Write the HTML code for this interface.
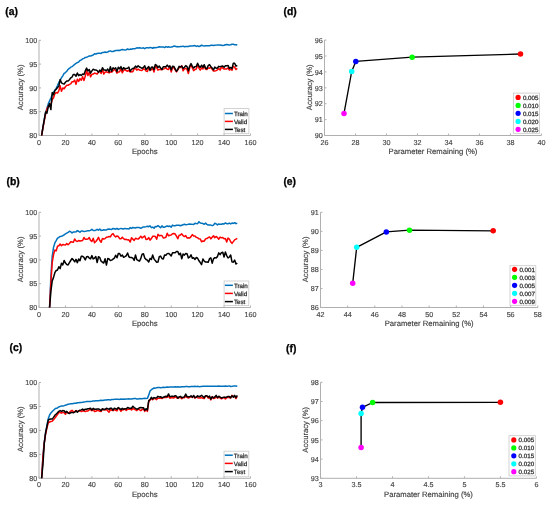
<!DOCTYPE html>
<html><head><meta charset="utf-8"><title>Accuracy figure</title>
<style>
html,body{margin:0;padding:0;background:#fff;}
body{width:550px;height:505px;overflow:hidden;}
svg{display:block;will-change:transform;}
#w{width:550px;height:505px;}
text{font-family:"Liberation Sans", sans-serif;text-rendering:geometricPrecision;}
.t{font-size:7.2px;fill:#3c3c3c;stroke:#555;stroke-width:0.15px;}
.l{font-size:7.7px;fill:#383838;stroke:#4a4a4a;stroke-width:0.15px;}
.g{font-size:6.2px;fill:#262626;stroke:#303030;stroke-width:0.25px;}
.p{font-size:11.0px;font-weight:bold;fill:#000;stroke:#000;stroke-width:0.3px;}
</style></head>
<body><div id="w">
<svg width="550" height="505" viewBox="0 0 550 505">
<rect width="550" height="505" fill="#fff"/>
<text transform="translate(5.2 15) scale(0.94 1)" class="p">(a)</text>
<text transform="translate(6.6 185) scale(0.94 1)" class="p">(b)</text>
<text transform="translate(9.5 351) scale(0.94 1)" class="p">(c)</text>
<text transform="translate(283.6 15.1) scale(0.94 1)" class="p">(d)</text>
<text transform="translate(283.4 185.2) scale(0.94 1)" class="p">(e)</text>
<text transform="translate(286 352.1) scale(0.94 1)" class="p">(f)</text>
<path d="M39 40.3V135.5M39 135.5H250.5" stroke="#b0b0b0" stroke-width="1" fill="none"/>
<path d="M39 135.5h2M39 111.7h2M39 87.9h2M39 64.1h2M39 40.3h2M39 135.5v-2M65.44 135.5v-2M91.88 135.5v-2M118.31 135.5v-2M144.75 135.5v-2M171.19 135.5v-2M197.62 135.5v-2M224.06 135.5v-2M250.5 135.5v-2" stroke="#b0b0b0" stroke-width="1" fill="none"/>
<text x="37.2" y="138.2" text-anchor="end" class="t">80</text>
<text x="37.2" y="114.4" text-anchor="end" class="t">85</text>
<text x="37.2" y="90.6" text-anchor="end" class="t">90</text>
<text x="37.2" y="66.8" text-anchor="end" class="t">95</text>
<text x="37.2" y="43" text-anchor="end" class="t">100</text>
<text x="39" y="144.6" text-anchor="middle" class="t">0</text>
<text x="65.44" y="144.6" text-anchor="middle" class="t">20</text>
<text x="91.88" y="144.6" text-anchor="middle" class="t">40</text>
<text x="118.31" y="144.6" text-anchor="middle" class="t">60</text>
<text x="144.75" y="144.6" text-anchor="middle" class="t">80</text>
<text x="171.19" y="144.6" text-anchor="middle" class="t">100</text>
<text x="197.62" y="144.6" text-anchor="middle" class="t">120</text>
<text x="224.06" y="144.6" text-anchor="middle" class="t">140</text>
<text x="250.5" y="144.6" text-anchor="middle" class="t">160</text>
<text x="144.75" y="153.7" text-anchor="middle" class="l">Epochs</text>
<text transform="translate(23.2 87.4) rotate(-90)" text-anchor="middle" class="l">Accuracy (%)</text>
<path d="M41.64 135.5 42.97 126.87 44.29 119.21 45.61 112.9 46.93 108.17 48.25 103.86 49.58 100.83 50.9 97.94 52.22 94.7 53.54 92.38 54.86 90.14 56.18 88.43 57.51 85.59 58.83 82.47 60.15 80.31 61.47 77.73 62.79 75.89 64.12 73.48 65.44 72.52 66.76 71.22 68.08 69.4 69.4 68.46 70.72 67.17 72.05 66.59 73.37 65.52 74.69 64.33 76.01 63.47 77.33 62.65 78.66 61.99 79.98 60.52 81.3 59.79 82.62 58.86 83.94 58.32 85.27 57.42 86.59 57.2 87.91 56.63 89.23 55.98 90.55 56.06 91.88 55.45 93.2 55.03 94.52 53.81 95.84 54.03 97.16 53.53 98.48 53.22 99.81 53.25 101.13 53.44 102.45 52.41 103.77 52.54 105.09 51.99 106.42 52.41 107.74 51.99 109.06 51.21 110.38 50.89 111.7 51.6 113.03 51.54 114.35 50.95 115.67 50.47 116.99 50.45 118.31 50.25 119.63 50.51 120.96 49.87 122.28 49.48 123.6 49.81 124.92 50.04 126.24 49.71 127.57 49.04 128.89 49.66 130.21 49.07 131.53 49.18 132.85 48.8 134.18 48.68 135.5 48.48 136.82 47.86 138.14 48.05 139.46 47.69 140.78 48.05 142.11 48.13 143.43 47.78 144.75 48.74 146.07 47.86 147.39 47.63 148.72 48 150.04 47.42 151.36 47.64 152.68 48.25 154 47.53 155.32 47.65 156.65 47.46 157.97 47.27 159.29 46.74 160.61 47.02 161.93 47.05 163.26 46.88 164.58 47.55 165.9 46.57 167.22 47.19 168.54 46.71 169.87 47.14 171.19 47.09 172.51 46.85 173.83 46.02 175.15 46.28 176.47 46.71 177.8 46.62 179.12 46.86 180.44 46.49 181.76 46.59 183.08 46.14 184.41 46.75 185.73 46.45 187.05 46.55 188.37 46.49 189.69 45.98 191.02 46.08 192.34 45.91 193.66 45.66 194.98 45.61 196.3 46.41 197.62 45.84 198.95 46.51 200.27 45.99 201.59 45.23 202.91 45.81 204.23 45.9 205.56 45.69 206.88 45.68 208.2 45.63 209.52 45.85 210.84 45.22 212.17 45.17 213.49 45.49 214.81 45.31 216.13 45.13 217.45 44.94 218.78 45.09 220.1 44.97 221.42 45.23 222.74 45.48 224.06 45.28 225.38 44.71 226.71 44.61 228.03 44.83 229.35 45.05 230.67 44.74 231.99 44.21 233.32 44.21 234.64 44.85 235.96 44.67 237.28 45.07" stroke="#0072bd" stroke-width="1.5" fill="none" stroke-linejoin="round"/>
<path d="M41.64 135.5 42.97 127.95 44.29 120.61 45.61 114.05 46.93 109.15 48.25 106.4 49.58 106.62 50.9 104.64 52.22 99.67 53.54 97.71 54.86 93.81 56.18 92.6 57.51 93.06 58.83 90.81 60.15 85.83 61.47 91.33 62.79 87.99 64.12 88.77 65.44 86.73 66.76 85.32 68.08 85.37 69.4 84.36 70.72 83.88 72.05 81.77 73.37 81.75 74.69 80.13 76.01 84.39 77.33 79.24 78.66 81.46 79.98 78.62 81.3 80.23 82.62 76.74 83.94 80.56 85.27 76.12 86.59 70.68 87.91 75.51 89.23 72.16 90.55 76.88 91.88 74.36 93.2 74.01 94.52 73.12 95.84 73.54 97.16 73.95 98.48 72.35 99.81 70.82 101.13 73.53 102.45 69.3 103.77 74.15 105.09 72.11 106.42 71.87 107.74 72.29 109.06 72.88 110.38 71.83 111.7 72.14 113.03 70.82 114.35 69.5 115.67 70.51 116.99 73.15 118.31 72.02 119.63 71.66 120.96 69.12 122.28 72.81 123.6 70.36 124.92 69.67 126.24 70.72 127.57 71.17 128.89 70.2 130.21 72.09 131.53 71.82 132.85 71.67 134.18 68.62 135.5 68.54 136.82 70.1 138.14 69.07 139.46 69.94 140.78 70.32 142.11 70.42 143.43 68.68 144.75 69.41 146.07 71.11 147.39 71.54 148.72 67.45 150.04 69.25 151.36 69.75 152.68 68.45 154 72.05 155.32 66.38 156.65 67.61 157.97 70.14 159.29 69.42 160.61 69.6 161.93 69.64 163.26 69.13 164.58 68.62 165.9 67.74 167.22 69.22 168.54 69.41 169.87 66.11 171.19 71.91 172.51 68.09 173.83 67.26 175.15 69.94 176.47 71.84 177.8 69.93 179.12 67.43 180.44 67.61 181.76 65.82 183.08 70.75 184.41 68.91 185.73 68.4 187.05 69.56 188.37 73.52 189.69 67.8 191.02 64.74 192.34 67.94 193.66 70.65 194.98 69.53 196.3 68.99 197.62 64.82 198.95 68.12 200.27 70.08 201.59 67.89 202.91 68.93 204.23 65.85 205.56 69.31 206.88 69.61 208.2 67.88 209.52 68.25 210.84 67.15 212.17 69.28 213.49 71.08 214.81 70.99 216.13 70.61 217.45 69.77 218.78 68.43 220.1 70.08 221.42 67.08 222.74 68.16 224.06 69 225.38 68.91 226.71 68.89 228.03 67.98 229.35 70 230.67 69.2 231.99 70.2 233.32 66.34 234.64 67.13 235.96 69.52 237.28 68.4" stroke="#ff0000" stroke-width="1.5" fill="none" stroke-linejoin="round"/>
<path d="M41.64 135.5 42.97 127.19 44.29 119.79 45.61 111.91 46.93 113.19 48.25 106.86 49.58 103.65 50.9 109.59 52.22 92.53 53.54 94.75 54.86 90.56 56.18 89.32 57.51 87.58 58.83 86.17 60.15 79.56 61.47 82.83 62.79 83.65 64.12 84.14 65.44 82.22 66.76 80.93 68.08 80.97 69.4 79.74 70.72 77.87 72.05 77.03 73.37 74.46 74.69 74.45 76.01 76.27 77.33 72.99 78.66 75.64 79.98 74.59 81.3 75.41 82.62 74.06 83.94 74.59 85.27 70.94 86.59 68.1 87.91 71.04 89.23 69.55 90.55 73.12 91.88 70.9 93.2 69.23 94.52 69.88 95.84 69.93 97.16 70.6 98.48 72.24 99.81 70.03 101.13 71.4 102.45 67.67 103.77 69.94 105.09 69.99 106.42 70.63 107.74 68.97 109.06 72.06 110.38 66.79 111.7 71.18 113.03 67.81 114.35 68.75 115.67 67.87 116.99 71.63 118.31 67.32 119.63 68.78 120.96 66.65 122.28 70.01 123.6 67.65 124.92 68.84 126.24 68.53 127.57 68.23 128.89 67.12 130.21 71.18 131.53 69.32 132.85 68.47 134.18 67.98 135.5 66.11 136.82 67.39 138.14 65.8 139.46 67.04 140.78 67.54 142.11 68.35 143.43 67.41 144.75 65.83 146.07 69.49 147.39 67.98 148.72 66.49 150.04 70.59 151.36 67.14 152.68 66.99 154 69.62 155.32 64.51 156.65 65.48 157.97 67.53 159.29 66.13 160.61 68 161.93 69.56 163.26 66.7 164.58 66.74 165.9 66.75 167.22 65.11 168.54 66.91 169.87 65.97 171.19 69.71 172.51 66.32 173.83 66.48 175.15 68.83 176.47 71.27 177.8 69.35 179.12 66.35 180.44 66.82 181.76 66.07 183.08 68.51 184.41 67.2 185.73 65.65 187.05 66.52 188.37 70.8 189.69 66.02 191.02 63.63 192.34 66.36 193.66 68.06 194.98 66.62 196.3 66.4 197.62 63.3 198.95 66.19 200.27 67.32 201.59 65.17 202.91 67.37 204.23 64.68 205.56 68.29 206.88 68.75 208.2 65.64 209.52 64.62 210.84 66.65 212.17 68.1 213.49 69.81 214.81 67.13 216.13 68.16 217.45 68 218.78 66.34 220.1 66.86 221.42 66.15 222.74 65.96 224.06 67.34 225.38 65.84 226.71 65.87 228.03 65.43 229.35 68.34 230.67 67.45 231.99 68.67 233.32 63.19 234.64 63.29 235.96 66.12 237.28 65.54" stroke="#000000" stroke-width="1.5" fill="none" stroke-linejoin="round"/>
<rect x="224.1" y="108.6" width="24.8" height="25.1" fill="#fff" stroke="#c8c8c8" stroke-width="0.8"/>
<path d="M224.9 113.5H232.9" stroke="#0072bd" stroke-width="1.5"/>
<text x="233.9" y="115.8" class="g">Train</text>
<path d="M224.9 121.4H232.9" stroke="#ff0000" stroke-width="1.5"/>
<text x="233.9" y="123.7" class="g">Valid</text>
<path d="M224.9 129.4H232.9" stroke="#000000" stroke-width="1.5"/>
<text x="233.9" y="131.7" class="g">Test</text>
<path d="M39 212.3V307.5M39 307.5H250.5" stroke="#b0b0b0" stroke-width="1" fill="none"/>
<path d="M39 307.5h2M39 283.7h2M39 259.9h2M39 236.1h2M39 212.3h2M39 307.5v-2M65.44 307.5v-2M91.88 307.5v-2M118.31 307.5v-2M144.75 307.5v-2M171.19 307.5v-2M197.62 307.5v-2M224.06 307.5v-2M250.5 307.5v-2" stroke="#b0b0b0" stroke-width="1" fill="none"/>
<text x="37.2" y="310.2" text-anchor="end" class="t">80</text>
<text x="37.2" y="286.4" text-anchor="end" class="t">85</text>
<text x="37.2" y="262.6" text-anchor="end" class="t">90</text>
<text x="37.2" y="238.8" text-anchor="end" class="t">95</text>
<text x="37.2" y="215" text-anchor="end" class="t">100</text>
<text x="39" y="316.6" text-anchor="middle" class="t">0</text>
<text x="65.44" y="316.6" text-anchor="middle" class="t">20</text>
<text x="91.88" y="316.6" text-anchor="middle" class="t">40</text>
<text x="118.31" y="316.6" text-anchor="middle" class="t">60</text>
<text x="144.75" y="316.6" text-anchor="middle" class="t">80</text>
<text x="171.19" y="316.6" text-anchor="middle" class="t">100</text>
<text x="197.62" y="316.6" text-anchor="middle" class="t">120</text>
<text x="224.06" y="316.6" text-anchor="middle" class="t">140</text>
<text x="250.5" y="316.6" text-anchor="middle" class="t">160</text>
<text x="144.75" y="325.7" text-anchor="middle" class="l">Epochs</text>
<text transform="translate(23.2 259.4) rotate(-90)" text-anchor="middle" class="l">Accuracy (%)</text>
<path d="M49.58 307.5 50.9 276.29 52.22 256.32 53.54 247.35 54.86 242.95 56.18 240.63 57.51 238.06 58.83 237.45 60.15 236.45 61.47 236.23 62.79 235.71 64.12 234.77 65.44 233.89 66.76 233.13 68.08 232.45 69.4 231.25 70.72 231.71 72.05 232.99 73.37 231.94 74.69 232.1 76.01 231.88 77.33 230.63 78.66 231.29 79.98 232.27 81.3 231.01 82.62 231.12 83.94 231.55 85.27 231.38 86.59 231.1 87.91 230.64 89.23 230.73 90.55 230.38 91.88 229.24 93.2 230.53 94.52 230.6 95.84 230.21 97.16 229.31 98.48 230.18 99.81 229.01 101.13 230.39 102.45 230.34 103.77 229.73 105.09 230.06 106.42 229.91 107.74 229.23 109.06 228.94 110.38 229.2 111.7 229.4 113.03 228.45 114.35 228.82 115.67 229.17 116.99 228.34 118.31 229.39 119.63 228.84 120.96 228.41 122.28 228.67 123.6 228.95 124.92 228.38 126.24 228.75 127.57 228.76 128.89 228.93 130.21 227.55 131.53 228.37 132.85 227.42 134.18 227.67 135.5 228 136.82 227.43 138.14 227.52 139.46 227.54 140.78 228.33 142.11 227.52 143.43 226.88 144.75 226.97 146.07 226.61 147.39 226.21 148.72 226.71 150.04 225.83 151.36 227.67 152.68 227.11 154 228.3 155.32 226.48 156.65 226.63 157.97 225.69 159.29 226.7 160.61 227.72 161.93 225.91 163.26 227.14 164.58 227.19 165.9 226.53 167.22 225.94 168.54 226.47 169.87 226.08 171.19 227.17 172.51 225.12 173.83 225.8 175.15 225.67 176.47 225.28 177.8 225.37 179.12 225.26 180.44 225.79 181.76 225.28 183.08 224.8 184.41 224.29 185.73 224.79 187.05 224.62 188.37 224.36 189.69 224.09 191.02 224.16 192.34 224.33 193.66 224.39 194.98 223.36 196.3 223.6 197.62 223.68 198.95 221.73 200.27 222.98 201.59 223.15 202.91 223.57 204.23 224.28 205.56 223.14 206.88 224.34 208.2 224.96 209.52 225.04 210.84 225.09 212.17 225.65 213.49 225.12 214.81 223.24 216.13 223.93 217.45 224.9 218.78 223.97 220.1 224.17 221.42 224.23 222.74 223.84 224.06 224.02 225.38 222.93 226.71 223.73 228.03 223.71 229.35 223.09 230.67 223.91 231.99 223.02 233.32 223.43 234.64 222.67 235.96 223.65 237.28 223.29" stroke="#0072bd" stroke-width="1.5" fill="none" stroke-linejoin="round"/>
<path d="M49.58 307.5 50.9 282.85 52.22 262.27 53.54 254.52 54.86 250.11 56.18 250.96 57.51 246.17 58.83 245.74 60.15 244.03 61.47 245.68 62.79 244.45 64.12 244.75 65.44 244.97 66.76 243.58 68.08 244.73 69.4 243.5 70.72 241.8 72.05 242.06 73.37 242.35 74.69 238.99 76.01 240.82 77.33 241.51 78.66 240.54 79.98 241.06 81.3 240.78 82.62 240.52 83.94 237.49 85.27 239.33 86.59 239.19 87.91 238.92 89.23 237.57 90.55 240.35 91.88 241.44 93.2 238.16 94.52 242.73 95.84 241.53 97.16 239.8 98.48 237.31 99.81 240.5 101.13 242.28 102.45 238.46 103.77 239.05 105.09 238.6 106.42 237.18 107.74 236.93 109.06 236.46 110.38 236.91 111.7 234.55 113.03 233.66 114.35 235.74 115.67 236.91 116.99 235.98 118.31 236.52 119.63 238.73 120.96 238.65 122.28 237.18 123.6 238.71 124.92 239.52 126.24 239.31 127.57 239.92 128.89 239.82 130.21 242.03 131.53 237.83 132.85 239.1 134.18 240.45 135.5 238.33 136.82 238.79 138.14 239.11 139.46 237.85 140.78 236.17 142.11 237.93 143.43 236.83 144.75 235.94 146.07 239.54 147.39 239.3 148.72 237.64 150.04 240.19 151.36 238.58 152.68 236.33 154 236.16 155.32 236.49 156.65 239.28 157.97 234.36 159.29 235.72 160.61 235.42 161.93 235.51 163.26 237.96 164.58 237.72 165.9 237.23 167.22 233.24 168.54 235.84 169.87 235.25 171.19 235 172.51 233.78 173.83 233.52 175.15 234 176.47 236.05 177.8 238.71 179.12 235.27 180.44 234.92 181.76 233.91 183.08 235.55 184.41 236.53 185.73 235.61 187.05 238.01 188.37 237.87 189.69 237.98 191.02 236.64 192.34 234.56 193.66 236.12 194.98 236.09 196.3 237.39 197.62 237.72 198.95 238.86 200.27 239.02 201.59 241.83 202.91 240.93 204.23 241.16 205.56 238.88 206.88 238.55 208.2 237.73 209.52 236.93 210.84 238.84 212.17 237.24 213.49 235.77 214.81 237.72 216.13 236.44 217.45 237.57 218.78 239.21 220.1 237.14 221.42 237.8 222.74 237.49 224.06 238.73 225.38 238.55 226.71 242.06 228.03 238.06 229.35 239.04 230.67 241.8 231.99 243.39 233.32 241.58 234.64 239.83 235.96 239.19 237.28 238.41" stroke="#ff0000" stroke-width="1.5" fill="none" stroke-linejoin="round"/>
<path d="M49.58 307.5 50.9 291.19 52.22 280.91 53.54 277.37 54.86 272.69 56.18 270.49 57.51 269.95 58.83 266.81 60.15 268.61 61.47 263.29 62.79 264.91 64.12 260.42 65.44 263.07 66.76 264.55 68.08 264.99 69.4 262.64 70.72 260.5 72.05 258.52 73.37 259.89 74.69 261.82 76.01 259.34 77.33 262.67 78.66 258.91 79.98 260.68 81.3 256.13 82.62 256.31 83.94 257.3 85.27 259.92 86.59 256.81 87.91 256.52 89.23 258.04 90.55 258.88 91.88 255.62 93.2 258.99 94.52 258.12 95.84 256.54 97.16 262.52 98.48 256.72 99.81 257.64 101.13 261.14 102.45 262.24 103.77 262.98 105.09 258.83 106.42 265.05 107.74 258.54 109.06 259.03 110.38 260.54 111.7 260.12 113.03 259.16 114.35 258.18 115.67 255.24 116.99 257.75 118.31 253.6 119.63 253.59 120.96 256.23 122.28 254.99 123.6 257.32 124.92 256.57 126.24 255.76 127.57 252.95 128.89 256.76 130.21 257.58 131.53 257.49 132.85 258.21 134.18 260.39 135.5 255.03 136.82 259.68 138.14 260.46 139.46 261.1 140.78 258.66 142.11 254.11 143.43 253.72 144.75 258.06 146.07 259.54 147.39 260.2 148.72 262 150.04 258.46 151.36 259.45 152.68 254.96 154 258.9 155.32 260.59 156.65 262.2 157.97 262.03 159.29 256.68 160.61 256.08 161.93 258.5 163.26 259.05 164.58 254.97 165.9 255.26 167.22 253.62 168.54 253.42 169.87 254.43 171.19 255.96 172.51 252.74 173.83 252.68 175.15 252.75 176.47 251.48 177.8 251.61 179.12 254.73 180.44 253.19 181.76 258.81 183.08 253.99 184.41 255.1 185.73 253.46 187.05 253.66 188.37 257.91 189.69 257.11 191.02 254.84 192.34 258.26 193.66 257.76 194.98 259.41 196.3 257.53 197.62 258.23 198.95 260.8 200.27 262.55 201.59 264.6 202.91 258.9 204.23 261.07 205.56 262.07 206.88 262.09 208.2 262.34 209.52 258.69 210.84 257.91 212.17 263.16 213.49 258.87 214.81 257.63 216.13 257.9 217.45 256.61 218.78 252.84 220.1 254.67 221.42 252.66 222.74 252.33 224.06 256.96 225.38 252.03 226.71 255.58 228.03 257.99 229.35 256.98 230.67 255 231.99 261.87 233.32 262.22 234.64 260.05 235.96 264.02 237.28 263.04" stroke="#000000" stroke-width="1.5" fill="none" stroke-linejoin="round"/>
<rect x="224.1" y="281" width="24.7" height="24.6" fill="#fff" stroke="#c8c8c8" stroke-width="0.8"/>
<path d="M224.9 285.3H232.9" stroke="#0072bd" stroke-width="1.5"/>
<text x="233.9" y="287.6" class="g">Train</text>
<path d="M224.9 293.4H232.9" stroke="#ff0000" stroke-width="1.5"/>
<text x="233.9" y="295.7" class="g">Valid</text>
<path d="M224.9 301.6H232.9" stroke="#000000" stroke-width="1.5"/>
<text x="233.9" y="303.9" class="g">Test</text>
<path d="M39 382.5V478.3M39 478.3H250.5" stroke="#b0b0b0" stroke-width="1" fill="none"/>
<path d="M39 478.3h2M39 454.35h2M39 430.4h2M39 406.45h2M39 382.5h2M39 478.3v-2M65.44 478.3v-2M91.88 478.3v-2M118.31 478.3v-2M144.75 478.3v-2M171.19 478.3v-2M197.62 478.3v-2M224.06 478.3v-2M250.5 478.3v-2" stroke="#b0b0b0" stroke-width="1" fill="none"/>
<text x="37.2" y="481" text-anchor="end" class="t">80</text>
<text x="37.2" y="457.05" text-anchor="end" class="t">85</text>
<text x="37.2" y="433.1" text-anchor="end" class="t">90</text>
<text x="37.2" y="409.15" text-anchor="end" class="t">95</text>
<text x="37.2" y="385.2" text-anchor="end" class="t">100</text>
<text x="39" y="487.4" text-anchor="middle" class="t">0</text>
<text x="65.44" y="487.4" text-anchor="middle" class="t">20</text>
<text x="91.88" y="487.4" text-anchor="middle" class="t">40</text>
<text x="118.31" y="487.4" text-anchor="middle" class="t">60</text>
<text x="144.75" y="487.4" text-anchor="middle" class="t">80</text>
<text x="171.19" y="487.4" text-anchor="middle" class="t">100</text>
<text x="197.62" y="487.4" text-anchor="middle" class="t">120</text>
<text x="224.06" y="487.4" text-anchor="middle" class="t">140</text>
<text x="250.5" y="487.4" text-anchor="middle" class="t">160</text>
<text x="144.75" y="496.5" text-anchor="middle" class="l">Epochs</text>
<text transform="translate(23.2 429.2) rotate(-90)" text-anchor="middle" class="l">Accuracy (%)</text>
<path d="M41.64 478.3 42.97 455.54 44.29 441.77 45.61 432.6 46.93 425.61 48.25 418.68 49.58 415.02 50.9 412.89 52.22 411.48 53.54 410.25 54.86 408.91 56.18 408.26 57.51 407.91 58.83 406.97 60.15 406.37 61.47 406.01 62.79 405.96 64.12 405.65 65.44 405.17 66.76 404.74 68.08 404.26 69.4 404.11 70.72 403.84 72.05 403.81 73.37 403.51 74.69 403.29 76.01 403.25 77.33 402.74 78.66 402.68 79.98 402.42 81.3 402.48 82.62 402.34 83.94 402.1 85.27 401.87 86.59 401.57 87.91 401.49 89.23 401.48 90.55 401.45 91.88 401.27 93.2 400.9 94.52 401.04 95.84 400.8 97.16 400.64 98.48 400.79 99.81 400.48 101.13 400.16 102.45 400.49 103.77 400.18 105.09 400.01 106.42 400.03 107.74 399.78 109.06 399.77 110.38 399.91 111.7 399.54 113.03 399.45 114.35 399.34 115.67 399.19 116.99 399.27 118.31 399.25 119.63 399.39 120.96 399.07 122.28 399.14 123.6 399.08 124.92 399.17 126.24 399.1 127.57 399 128.89 398.7 130.21 399.11 131.53 399.05 132.85 398.77 134.18 398.53 135.5 398.6 136.82 398.93 138.14 399.03 139.46 398.6 140.78 398.68 142.11 398.71 143.43 398.38 144.75 398.3 146.07 398.39 147.39 398.36 148.72 395.15 150.04 390.97 151.36 389.69 152.68 388.86 154 388 155.32 388.13 156.65 387.64 157.97 387.54 159.29 387.49 160.61 387.75 161.93 387.49 163.26 387.17 164.58 387.49 165.9 387.26 167.22 387.03 168.54 387.31 169.87 386.89 171.19 386.96 172.51 387.04 173.83 386.95 175.15 386.86 176.47 386.9 177.8 386.72 179.12 386.93 180.44 386.89 181.76 386.64 183.08 386.73 184.41 386.84 185.73 386.56 187.05 386.42 188.37 386.64 189.69 386.77 191.02 386.6 192.34 386.57 193.66 386.58 194.98 386.32 196.3 386.63 197.62 386.33 198.95 386.64 200.27 386.6 201.59 386.38 202.91 386.27 204.23 386.28 205.56 386.34 206.88 386.37 208.2 386.36 209.52 386.29 210.84 386.37 212.17 386.31 213.49 386.25 214.81 386.31 216.13 386.19 217.45 386.2 218.78 385.98 220.1 386.18 221.42 386.3 222.74 386.3 224.06 386.23 225.38 386.08 226.71 386.23 228.03 386.13 229.35 385.9 230.67 386.5 231.99 386.35 233.32 386.12 234.64 386.06 235.96 386.06 237.28 386.15" stroke="#0072bd" stroke-width="1.5" fill="none" stroke-linejoin="round"/>
<path d="M41.64 478.3 42.97 456.62 44.29 442.79 45.61 434.01 46.93 428.03 48.25 422.77 49.58 421.99 50.9 421.54 52.22 421.12 53.54 419.73 54.86 418.13 56.18 416.21 57.51 414.61 58.83 412.44 60.15 412.46 61.47 413.12 62.79 412.31 64.12 412.84 65.44 414.31 66.76 411.99 68.08 412.82 69.4 412.57 70.72 411.07 72.05 410.32 73.37 411.66 74.69 411.66 76.01 410.64 77.33 411.46 78.66 411.37 79.98 410.5 81.3 411.54 82.62 410.86 83.94 410.98 85.27 411.6 86.59 410.96 87.91 410.93 89.23 409.69 90.55 409.69 91.88 410.79 93.2 409.08 94.52 411.6 95.84 411.28 97.16 410.35 98.48 410.52 99.81 411.22 101.13 411.47 102.45 408.8 103.77 409.84 105.09 410.07 106.42 409.31 107.74 410.87 109.06 412.19 110.38 409.66 111.7 410.25 113.03 410.63 114.35 409.27 115.67 410.28 116.99 410.95 118.31 407.99 119.63 409.31 120.96 411.36 122.28 409.77 123.6 409.83 124.92 408.97 126.24 410.43 127.57 409.14 128.89 409.32 130.21 408.99 131.53 410.01 132.85 408.49 134.18 409.12 135.5 409.92 136.82 410.65 138.14 408.96 139.46 409.76 140.78 410.69 142.11 409.62 143.43 408.6 144.75 411.44 146.07 409.49 147.39 411.43 148.72 401.72 150.04 399.95 151.36 398.47 152.68 399.77 154 398.17 155.32 398.69 156.65 399.64 157.97 397.99 159.29 398.39 160.61 397.94 161.93 398.6 163.26 397.64 164.58 397.56 165.9 397.54 167.22 397.17 168.54 396.11 169.87 398.21 171.19 397.83 172.51 397.82 173.83 398.09 175.15 396.69 176.47 397.74 177.8 398.3 179.12 397.64 180.44 397.35 181.76 398.7 183.08 397.62 184.41 397.71 185.73 396.34 187.05 397.35 188.37 398.02 189.69 397.34 191.02 396.44 192.34 397.4 193.66 396.05 194.98 398.18 196.3 396.66 197.62 397.8 198.95 398.01 200.27 398.12 201.59 397.46 202.91 398.31 204.23 398.52 205.56 396.22 206.88 396.1 208.2 398.16 209.52 397.26 210.84 399.9 212.17 396.61 213.49 398.48 214.81 398.34 216.13 396.38 217.45 398.11 218.78 397.37 220.1 397.88 221.42 398.85 222.74 398.17 224.06 397.33 225.38 398.97 226.71 397.95 228.03 396.97 229.35 397.79 230.67 397.95 231.99 395.36 233.32 396.52 234.64 396.27 235.96 398.54 237.28 396.31" stroke="#ff0000" stroke-width="1.5" fill="none" stroke-linejoin="round"/>
<path d="M41.64 478.3 42.97 463.96 44.29 443.36 45.61 432.74 46.93 426.53 48.25 420.11 49.58 419.24 50.9 418.91 52.22 418.92 53.54 417.38 54.86 415.28 56.18 414.09 57.51 412.82 58.83 411.35 60.15 410.59 61.47 411.36 62.79 410.55 64.12 410.67 65.44 412.55 66.76 411.38 68.08 412.95 69.4 413.54 70.72 412.73 72.05 412.33 73.37 412.81 74.69 412.18 76.01 410.65 77.33 412.33 78.66 410.82 79.98 410.16 81.3 409.88 82.62 409.08 83.94 410.11 85.27 409.13 86.59 409.22 87.91 408.73 89.23 408.53 90.55 408.22 91.88 410.07 93.2 408.36 94.52 409.19 95.84 409.33 97.16 408.93 98.48 408.96 99.81 409.4 101.13 410.81 102.45 408.75 103.77 409.56 105.09 409.29 106.42 408.28 107.74 408.7 109.06 409.39 110.38 408.16 111.7 408.36 113.03 410.19 114.35 408.17 115.67 408.76 116.99 409.2 118.31 407.48 119.63 408.53 120.96 409.57 122.28 408.39 123.6 409.3 124.92 408.64 126.24 409 127.57 407.55 128.89 408.01 130.21 408.17 131.53 408.23 132.85 406.19 134.18 407.57 135.5 408.3 136.82 409.27 138.14 408.7 139.46 407.81 140.78 407.6 142.11 407.81 143.43 407.71 144.75 410.31 146.07 408.67 147.39 410.07 148.72 400.56 150.04 399.68 151.36 397.3 152.68 399.08 154 397.62 155.32 397.95 156.65 397.75 157.97 396.34 159.29 396.89 160.61 396.68 161.93 397.83 163.26 397.18 164.58 396.7 165.9 396.32 167.22 396.55 168.54 393.94 169.87 396.73 171.19 396.37 172.51 396.34 173.83 396.57 175.15 395.58 176.47 396.17 177.8 398.13 179.12 396.87 180.44 396.35 181.76 397.84 183.08 397.15 184.41 396.87 185.73 394.09 187.05 396.7 188.37 396.84 189.69 396.86 191.02 395.77 192.34 397.24 193.66 395.45 194.98 397.66 196.3 397.14 197.62 395.82 198.95 396.72 200.27 396.33 201.59 395.27 202.91 396.47 204.23 397.66 205.56 395.64 206.88 395.68 208.2 397.06 209.52 396.06 210.84 399.25 212.17 396.8 213.49 397.83 214.81 396.9 216.13 395.4 217.45 397.64 218.78 396.2 220.1 397.05 221.42 397.93 222.74 397.6 224.06 397.12 225.38 397.41 226.71 396.99 228.03 396.55 229.35 396.59 230.67 397.67 231.99 395.78 233.32 397.28 234.64 395.38 235.96 397.63 237.28 395.38" stroke="#000000" stroke-width="1.5" fill="none" stroke-linejoin="round"/>
<rect x="224" y="451.2" width="24.8" height="25.6" fill="#fff" stroke="#c8c8c8" stroke-width="0.8"/>
<path d="M224.8 455.2H232.8" stroke="#0072bd" stroke-width="1.5"/>
<text x="233.8" y="457.5" class="g">Train</text>
<path d="M224.8 463.4H232.8" stroke="#ff0000" stroke-width="1.5"/>
<text x="233.8" y="465.7" class="g">Valid</text>
<path d="M224.8 471.6H232.8" stroke="#000000" stroke-width="1.5"/>
<text x="233.8" y="473.9" class="g">Test</text>
<path d="M324.5 40.1V135.5M324.5 135.5H541.4" stroke="#b0b0b0" stroke-width="1" fill="none"/>
<path d="M324.5 135.5h2M324.5 119.6h2M324.5 103.7h2M324.5 87.8h2M324.5 71.9h2M324.5 56h2M324.5 40.1h2M324.5 135.5v-2M355.49 135.5v-2M386.47 135.5v-2M417.46 135.5v-2M448.44 135.5v-2M479.43 135.5v-2M510.41 135.5v-2M541.4 135.5v-2" stroke="#b0b0b0" stroke-width="1" fill="none"/>
<text x="322.7" y="138.2" text-anchor="end" class="t">90</text>
<text x="322.7" y="122.3" text-anchor="end" class="t">91</text>
<text x="322.7" y="106.4" text-anchor="end" class="t">92</text>
<text x="322.7" y="90.5" text-anchor="end" class="t">93</text>
<text x="322.7" y="74.6" text-anchor="end" class="t">94</text>
<text x="322.7" y="58.7" text-anchor="end" class="t">95</text>
<text x="322.7" y="42.8" text-anchor="end" class="t">96</text>
<text x="324.5" y="144.6" text-anchor="middle" class="t">26</text>
<text x="355.49" y="144.6" text-anchor="middle" class="t">28</text>
<text x="386.47" y="144.6" text-anchor="middle" class="t">30</text>
<text x="417.46" y="144.6" text-anchor="middle" class="t">32</text>
<text x="448.44" y="144.6" text-anchor="middle" class="t">34</text>
<text x="479.43" y="144.6" text-anchor="middle" class="t">36</text>
<text x="510.41" y="144.6" text-anchor="middle" class="t">38</text>
<text x="541.4" y="144.6" text-anchor="middle" class="t">40</text>
<text x="432.95" y="153.7" text-anchor="middle" class="l">Parameter Remaining (%)</text>
<text transform="translate(312.2 87.3) rotate(-90)" text-anchor="middle" class="l">Accuracy (%)</text>
<path d="M344 113.4 351.7 71.5 355.8 61.4 412.2 57.2 520.5 54" stroke="#000" stroke-width="1.35" fill="none" stroke-linejoin="round"/>
<circle cx="344" cy="113.4" r="2.75" fill="#ff00ff"/>
<circle cx="351.7" cy="71.5" r="2.75" fill="#00ffff"/>
<circle cx="355.8" cy="61.4" r="2.75" fill="#0000ff"/>
<circle cx="412.2" cy="57.2" r="2.75" fill="#00ff00"/>
<circle cx="520.5" cy="54" r="2.75" fill="#ff0000"/>
<rect x="513.4" y="93.1" width="26" height="40.2" fill="#fff" stroke="#c8c8c8" stroke-width="0.8"/>
<circle cx="518.1" cy="97.4" r="2.6" fill="#ff0000"/>
<text x="522.9" y="99.7" class="g">0.005</text>
<circle cx="518.1" cy="105.4" r="2.6" fill="#00ff00"/>
<text x="522.9" y="107.7" class="g">0.010</text>
<circle cx="518.1" cy="113.3" r="2.6" fill="#0000ff"/>
<text x="522.9" y="115.6" class="g">0.015</text>
<circle cx="518.1" cy="121.4" r="2.6" fill="#00ffff"/>
<text x="522.9" y="123.7" class="g">0.020</text>
<circle cx="518.1" cy="129.3" r="2.6" fill="#ff00ff"/>
<text x="522.9" y="131.6" class="g">0.025</text>
<path d="M320.5 212.3V307.5M320.5 307.5H537.8" stroke="#b0b0b0" stroke-width="1" fill="none"/>
<path d="M320.5 307.5h2M320.5 288.46h2M320.5 269.42h2M320.5 250.38h2M320.5 231.34h2M320.5 212.3h2M320.5 307.5v-2M347.66 307.5v-2M374.82 307.5v-2M401.99 307.5v-2M429.15 307.5v-2M456.31 307.5v-2M483.47 307.5v-2M510.64 307.5v-2M537.8 307.5v-2" stroke="#b0b0b0" stroke-width="1" fill="none"/>
<text x="318.7" y="310.2" text-anchor="end" class="t">86</text>
<text x="318.7" y="291.16" text-anchor="end" class="t">87</text>
<text x="318.7" y="272.12" text-anchor="end" class="t">88</text>
<text x="318.7" y="253.08" text-anchor="end" class="t">89</text>
<text x="318.7" y="234.04" text-anchor="end" class="t">90</text>
<text x="318.7" y="215" text-anchor="end" class="t">91</text>
<text x="320.5" y="316.6" text-anchor="middle" class="t">42</text>
<text x="347.66" y="316.6" text-anchor="middle" class="t">44</text>
<text x="374.82" y="316.6" text-anchor="middle" class="t">46</text>
<text x="401.99" y="316.6" text-anchor="middle" class="t">48</text>
<text x="429.15" y="316.6" text-anchor="middle" class="t">50</text>
<text x="456.31" y="316.6" text-anchor="middle" class="t">52</text>
<text x="483.47" y="316.6" text-anchor="middle" class="t">54</text>
<text x="510.64" y="316.6" text-anchor="middle" class="t">56</text>
<text x="537.8" y="316.6" text-anchor="middle" class="t">58</text>
<text x="429.15" y="325.7" text-anchor="middle" class="l">Parameter Remaining (%)</text>
<text transform="translate(308.2 259.4) rotate(-90)" text-anchor="middle" class="l">Accuracy (%)</text>
<path d="M352.7 283.3 356.7 247.3 386.3 231.9 409.5 230.2 493.2 230.8" stroke="#000" stroke-width="1.35" fill="none" stroke-linejoin="round"/>
<circle cx="352.7" cy="283.3" r="2.75" fill="#ff00ff"/>
<circle cx="356.7" cy="247.3" r="2.75" fill="#00ffff"/>
<circle cx="386.3" cy="231.9" r="2.75" fill="#0000ff"/>
<circle cx="409.5" cy="230.2" r="2.75" fill="#00ff00"/>
<circle cx="493.2" cy="230.8" r="2.75" fill="#ff0000"/>
<rect x="510" y="265.7" width="25.8" height="39.6" fill="#fff" stroke="#c8c8c8" stroke-width="0.8"/>
<circle cx="514.6" cy="269.3" r="2.6" fill="#ff0000"/>
<text x="519.4" y="271.6" class="g">0.001</text>
<circle cx="514.6" cy="277.3" r="2.6" fill="#00ff00"/>
<text x="519.4" y="279.6" class="g">0.003</text>
<circle cx="514.6" cy="285.3" r="2.6" fill="#0000ff"/>
<text x="519.4" y="287.6" class="g">0.005</text>
<circle cx="514.6" cy="293.3" r="2.6" fill="#00ffff"/>
<text x="519.4" y="295.6" class="g">0.007</text>
<circle cx="514.6" cy="301.3" r="2.6" fill="#ff00ff"/>
<text x="519.4" y="303.6" class="g">0.009</text>
<path d="M320.5 382.3V478.3M320.5 478.3H536.4" stroke="#b0b0b0" stroke-width="1" fill="none"/>
<path d="M320.5 478.3h2M320.5 459.1h2M320.5 439.9h2M320.5 420.7h2M320.5 401.5h2M320.5 382.3h2M320.5 478.3v-2M356.48 478.3v-2M392.47 478.3v-2M428.45 478.3v-2M464.43 478.3v-2M500.42 478.3v-2M536.4 478.3v-2" stroke="#b0b0b0" stroke-width="1" fill="none"/>
<text x="318.7" y="481" text-anchor="end" class="t">93</text>
<text x="318.7" y="461.8" text-anchor="end" class="t">94</text>
<text x="318.7" y="442.6" text-anchor="end" class="t">95</text>
<text x="318.7" y="423.4" text-anchor="end" class="t">96</text>
<text x="318.7" y="404.2" text-anchor="end" class="t">97</text>
<text x="318.7" y="385" text-anchor="end" class="t">98</text>
<text x="320.5" y="487.4" text-anchor="middle" class="t">3</text>
<text x="356.48" y="487.4" text-anchor="middle" class="t">3.5</text>
<text x="392.47" y="487.4" text-anchor="middle" class="t">4</text>
<text x="428.45" y="487.4" text-anchor="middle" class="t">4.5</text>
<text x="464.43" y="487.4" text-anchor="middle" class="t">5</text>
<text x="500.42" y="487.4" text-anchor="middle" class="t">5.5</text>
<text x="536.4" y="487.4" text-anchor="middle" class="t">6</text>
<text x="428.45" y="496.5" text-anchor="middle" class="l">Paramater Remaining (%)</text>
<text transform="translate(308.2 429.8) rotate(-90)" text-anchor="middle" class="l">Accuracy (%)</text>
<path d="M361.1 447.4 361.1 413.5 362.5 407.3 372.6 402.5 500.4 402.3" stroke="#000" stroke-width="1.35" fill="none" stroke-linejoin="round"/>
<circle cx="361.1" cy="447.4" r="2.75" fill="#ff00ff"/>
<circle cx="361.1" cy="413.5" r="2.75" fill="#00ffff"/>
<circle cx="362.5" cy="407.3" r="2.75" fill="#0000ff"/>
<circle cx="372.6" cy="402.5" r="2.75" fill="#00ff00"/>
<circle cx="500.4" cy="402.3" r="2.75" fill="#ff0000"/>
<rect x="509" y="435.7" width="26.3" height="40.2" fill="#fff" stroke="#c8c8c8" stroke-width="0.8"/>
<circle cx="513.8" cy="439.9" r="2.6" fill="#ff0000"/>
<text x="518.6" y="442.2" class="g">0.005</text>
<circle cx="513.8" cy="447.9" r="2.6" fill="#00ff00"/>
<text x="518.6" y="450.2" class="g">0.010</text>
<circle cx="513.8" cy="455.8" r="2.6" fill="#0000ff"/>
<text x="518.6" y="458.1" class="g">0.015</text>
<circle cx="513.8" cy="463.8" r="2.6" fill="#00ffff"/>
<text x="518.6" y="466.1" class="g">0.020</text>
<circle cx="513.8" cy="471.7" r="2.6" fill="#ff00ff"/>
<text x="518.6" y="474" class="g">0.025</text>
</svg></div>
</body></html>
